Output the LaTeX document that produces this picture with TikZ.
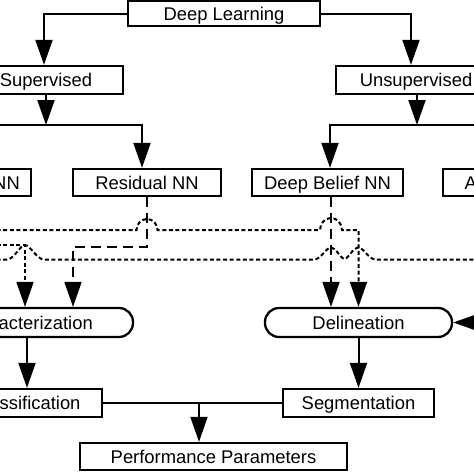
\documentclass[tikz,border=0pt]{standalone}
\usepackage{fontspec}
\setmainfont{Liberation Sans}
\usetikzlibrary{arrows.meta}
\begin{document}
\begin{tikzpicture}[x=1pt,y=-1pt,
  every node/.style={font=\fontsize{18.4}{22}\selectfont, inner sep=0pt, text height=13.1pt, text depth=0pt},
  box/.style={draw, line width=2.3pt, minimum height=27pt},
  pill/.style={box, rounded corners=14pt, minimum height=29pt},
  lbl/.style={},
  conn/.style={line width=2pt},
  tip/.style={-{Triangle[length=25pt,width=17pt]}},
  arr/.style={conn, tip},
  dots/.style={line width=2pt, dash pattern=on 4pt off 2.6pt},
  ldash/.style={line width=2pt, dash pattern=on 10pt off 6pt},
]
\useasboundingbox (0,0) rectangle (474,474);
\clip (0,0) rectangle (474,474);

% boxes
\node[box, minimum width=192pt, minimum height=25pt] (dl) at (224,13.5) {Deep Learning};
\node[box, minimum width=158pt, minimum height=28pt] (sup) at (44,80) {\hspace*{4pt}Supervised};
\node[box, minimum width=160pt, minimum height=28pt] (uns) at (416,80) {Unsupervised};
\node[box, minimum width=151pt] (cnn) at (-44.5,182.5) {};
\node[lbl, anchor=east] (cnnt) at (20,182.5) {NN};
\node[box, minimum width=148pt] (res) at (147,182.5) {Residual NN};
\node[box, minimum width=151pt] (dbn) at (327.5,182.5) {Deep Belief NN};
\node[box, minimum width=151pt] (ae) at (518.5,182.5) {};
\node[lbl, anchor=west] (aet) at (464.5,182.5) {A};
\node[pill, minimum width=214pt] (char) at (26,322.5) {};
\node[lbl, anchor=west] (chart) at (-1.5,322.5) {acterization};
\node[pill, minimum width=187pt] (del) at (358.5,322.5) {Delineation};
\node[box, minimum width=150pt, minimum height=28pt] (cls) at (27,403) {};
\node[lbl, anchor=west] (clst) at (-0.5,403) {ssification};
\node[box, minimum width=151pt, minimum height=28pt] (seg) at (358.5,403) {Segmentation};
\node[box, minimum width=267pt] (perf) at (213.5,456.5) {Performance Parameters};

% coordinates for free ends and junctions
\coordinate (j1) at (46,125);
\coordinate (j1l) at (-10,125);
\coordinate (j2) at (417,125);
\coordinate (j2r) at (490,125);
\coordinate (r1) at (147,247);
\coordinate (la) at (-10,230);
\coordinate (lb) at (-10,245);
\coordinate (lc) at (-10,259.5);
\coordinate (lcr) at (490,259.5);
\coordinate (j3) at (199,403);
\coordinate (dr) at (490,322.5);

% tree connectors
\draw[arr] (dl.west) -| (sup.north);
\draw[arr] (dl.east) -| ([xshift=-5pt]uns.north);
\draw[arr] (sup.south -| j1) -- (j1);
\draw[arr] (j1l) -| ([xshift=-5pt]res.north);
\draw[arr] (uns.south -| j2) -- (j2);
\draw[arr] (j2r) -| ([xshift=2.5pt]dbn.north);

% dashed connectors
\draw[ldash, tip] (res.south) -- (r1) -| ([xshift=47pt]char.north);
\draw[ldash, tip] ([xshift=3.5pt]dbn.south) -- ([xshift=3.5pt]dbn.south |- del.north);
\draw[dots, tip] (la) -- (136.5,230)
  .. controls (136.5,224) and (141.2,219) .. (147,219)
  .. controls (152.8,219) and (157.5,224) .. (157.5,230)
  -- (320,230)
  .. controls (320,223.4) and (325,218) .. (331,218)
  .. controls (337,218) and (342,223.4) .. (342,230)
  -| (del.north);
\draw[dots, tip] (lb) -| ([xshift=-1pt]char.north);
\draw[dots] (lc) -- (7,259.5)
  .. controls (14,259.5) and (20,245) .. (25,245)
  .. controls (30,245) and (37,259.5) .. (44,259.5)
  -- (314,259.5)
  .. controls (321,259.5) and (326,247.5) .. (331,247.5)
  .. controls (336,247.5) and (340,258) .. (344.5,259)
  .. controls (349,258) and (353,247.5) .. (358,247.5)
  .. controls (364,247.5) and (368,259.5) .. (376,259.5)
  -- (lcr);

% lower part
\draw[arr] (cls.north |- char.south) -- (cls.north);
\draw[arr] (seg.north |- del.south) -- (seg.north);
\draw[conn] (cls.east) -- (seg.west);
\draw[arr] (j3) -- (j3 |- perf.north);
\draw[arr] (dr) -- (del.east);
\end{tikzpicture}
\end{document}
